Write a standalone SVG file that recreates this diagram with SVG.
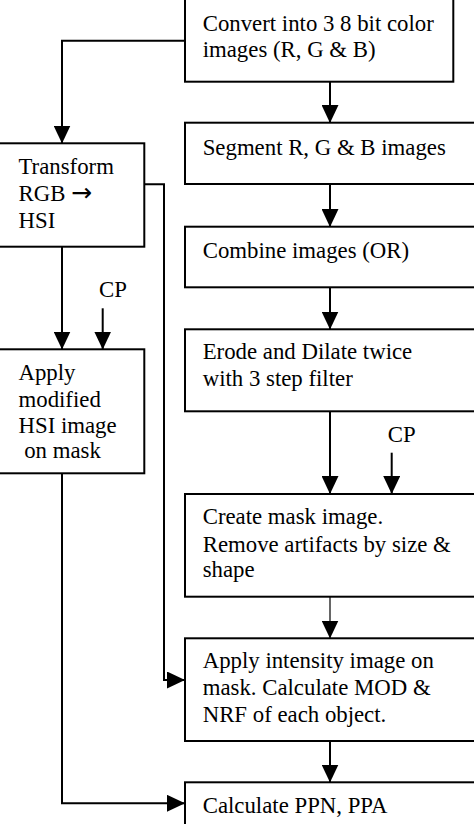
<svg xmlns="http://www.w3.org/2000/svg" width="474" height="824" viewBox="0 0 474 824">
  <style>
    .box { fill: #ffffff; stroke: #000000; stroke-width: 2; }
    .t { font-family: "Liberation Serif", "Times New Roman", serif; font-size: 22.8px; fill: #000000; }
    .arr { font-family: "DejaVu Sans", sans-serif; font-size: 25px; }
    .c { fill: none; stroke: #000000; stroke-width: 2; }
    .thin { stroke-width: 1.2; }
  </style>
  <defs>
    <marker id="ah" markerUnits="userSpaceOnUse" markerWidth="18" markerHeight="17" refX="18" refY="8.5" orient="auto">
      <path d="M0,0 L18,8.5 L0,17 Z" fill="#000000"/>
    </marker>
  </defs>
  <rect x="0" y="0" width="474" height="824" fill="#ffffff"/>

  <g id="connectors">
    <path class="c" d="M330,82 V123" marker-end="url(#ah)"/>
    <path class="c" d="M330,184 V227" marker-end="url(#ah)"/>
    <path class="c" d="M330,287 V329.5" marker-end="url(#ah)"/>
    <path class="c" d="M330,411 V494" marker-end="url(#ah)"/>
    <path class="c" d="M391.7,452.7 V494" marker-end="url(#ah)"/>
    <path class="c thin" d="M330,597 V638.5" marker-end="url(#ah)"/>
    <path class="c" d="M330,741 V782.5" marker-end="url(#ah)"/>
    <path class="c" d="M185,40.7 H62 V143.5" marker-end="url(#ah)"/>
    <path class="c" d="M62,247 V349.5" marker-end="url(#ah)"/>
    <path class="c" d="M102.7,308.3 V349.5" marker-end="url(#ah)"/>
    <path class="c" d="M144,184.3 H164 V680 H185" marker-end="url(#ah)"/>
    <path class="c" d="M62,473 V803.3 H185" marker-end="url(#ah)"/>
  </g>

  <g id="convert">
    <rect class="box" x="185" y="-5" width="268.3" height="86.7"/>
    <text class="t" x="202.7" y="30.7">Convert into 3 8 bit color</text>
    <text class="t" x="202.7" y="56.7">images (R, G &amp; B)</text>
  </g>
  <g id="segment">
    <rect class="box" x="185" y="122.7" width="300" height="61.3"/>
    <text class="t" x="202.7" y="155">Segment R, G &amp; B images</text>
  </g>
  <g id="combine">
    <rect class="box" x="185" y="226.7" width="300" height="60.6"/>
    <text class="t" x="202.7" y="258.3">Combine images (OR)</text>
  </g>
  <g id="erode">
    <rect class="box" x="185" y="329.3" width="300" height="82"/>
    <text class="t" x="202.7" y="359.3">Erode and Dilate twice</text>
    <text class="t" x="202.7" y="386">with 3 step filter</text>
  </g>
  <g id="cp-right">
    <text class="t" x="387.7" y="441.7">CP</text>
  </g>
  <g id="mask">
    <rect class="box" x="185" y="494" width="300" height="102.7"/>
    <text class="t" x="202.7" y="524.3">Create mask image.</text>
    <text class="t" x="202.7" y="551.5">Remove artifacts by size &amp;</text>
    <text class="t" x="202.7" y="576.7">shape</text>
  </g>
  <g id="intensity">
    <rect class="box" x="185" y="638.3" width="300" height="102.7"/>
    <text class="t" x="202.7" y="668.3">Apply intensity image on</text>
    <text class="t" x="202.7" y="695">mask. Calculate MOD &amp;</text>
    <text class="t" x="202.7" y="721.7">NRF of each object.</text>
  </g>
  <g id="ppn">
    <rect class="box" x="185" y="782.3" width="300" height="60"/>
    <text class="t" x="202.7" y="812.7">Calculate PPN, PPA</text>
  </g>
  <g id="transform">
    <rect class="box" x="-5" y="143.3" width="149.3" height="103.4"/>
    <text class="t" x="18.5" y="174">Transform</text>
    <text class="t" x="18.5" y="201">RGB <tspan class="arr">→</tspan></text>
    <text class="t" x="18.5" y="227.7">HSI</text>
  </g>
  <g id="cp-left">
    <text class="t" x="99" y="296.7">CP</text>
  </g>
  <g id="apply-hsi">
    <rect class="box" x="-5" y="349.3" width="149.3" height="124"/>
    <text class="t" x="18.5" y="380">Apply</text>
    <text class="t" x="18.5" y="406.7">modified</text>
    <text class="t" x="18.5" y="432.7">HSI image</text>
    <text class="t" x="18.5" y="458.3" xml:space="preserve"> on mask</text>
  </g>
</svg>
